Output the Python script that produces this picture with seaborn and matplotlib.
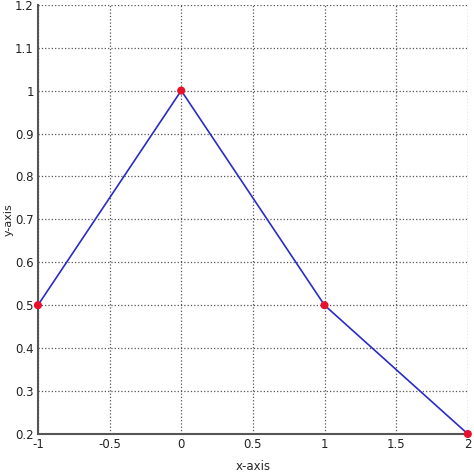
import matplotlib
matplotlib.use("Agg")
import matplotlib.pyplot as plt
import seaborn as sns
import pandas as pd

# Data
x_vals = [-1, 0, 1, 2]
y_vals = [0.5, 1.0, 0.5, 0.2]
x_ticks = [-1, -0.5, 0, 0.5, 1, 1.5, 2]
x_tick_labels = ["-1", "-0.5", "0", "0.5", "1", "1.5", "2"]
y_ticks = [0.2, 0.3, 0.4, 0.5, 0.6, 0.7, 0.8, 0.9, 1.0, 1.1, 1.2]
y_tick_labels = ["0.2", "0.3", "0.4", "0.5", "0.6", "0.7", "0.8", "0.9", "1", "1.1", "1.2"]

df = pd.DataFrame({"x": x_vals, "y": y_vals})

sns.set_style("white")
plt.rcParams["font.family"] = ["DejaVu Sans"]

fig = plt.figure(figsize=(4.74, 4.74), dpi=100)
ax = fig.add_axes([0.080, 0.0844, 0.907, 0.9056])

sns.lineplot(data=df, x="x", y="y", color="#2b2bc8", linewidth=1.2, ax=ax)
sns.scatterplot(data=df, x="x", y="y", color="#e8102a", s=34, edgecolor="none",
                zorder=5, clip_on=False, ax=ax)

ax.set_xlim(-1, 2)
ax.set_ylim(0.2, 1.2)
ax.set_xticks(x_ticks)
ax.set_xticklabels(x_tick_labels)
ax.set_yticks(y_ticks)
ax.set_yticklabels(y_tick_labels)
ax.tick_params(direction="in", length=4, labelsize=8.5, colors="#222222", pad=3)
ax.grid(True, linestyle=":", color="#555555", linewidth=0.9)

for s in ["top", "right"]:
    ax.spines[s].set_visible(False)
for s in ["left", "bottom"]:
    ax.spines[s].set_color("#555555")
    ax.spines[s].set_linewidth(1.5)

ax.set_xlabel("x-axis", fontsize=8.5)
ax.set_ylabel("y-axis", fontsize=8)
ax.xaxis.set_label_coords(0.5, -0.06)
ax.yaxis.set_label_coords(-0.056, 0.5)

fig.savefig("out.png", dpi=100)
